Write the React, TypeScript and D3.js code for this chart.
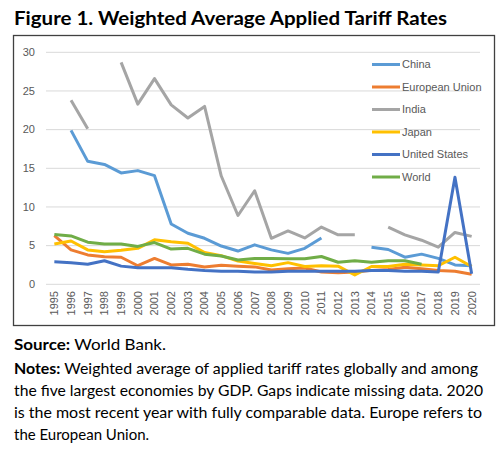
import * as d3 from 'd3'

const years = [
  '1995', '1996', '1997', '1998', '1999', '2000', '2001', '2002', '2003', '2004', '2005', '2006', '2007',
  '2008', '2009', '2010', '2011', '2012', '2013', '2014', '2015', '2016', '2017', '2018', '2019', '2020',
]

type V = number | null

const china: V[] = [null, 19.9, 15.9, 15.5, 14.4, 14.7, 14.05, 7.8, 6.6, 5.95, 4.95, 4.3, 5.1, 4.45, 4.0, 4.65, 6.0, null, null, 4.8, 4.5, 3.5, 3.9, 3.35, 2.5, 2.4]
const eu: V[] = [6.3, 4.45, 3.8, 3.55, 3.5, 2.4, 3.35, 2.5, 2.6, 2.25, 2.45, 2.35, 2.25, 1.85, 2.0, 2.1, 1.6, 1.5, 1.6, 1.8, 1.9, 2.2, 2.0, 1.8, 1.7, 1.3]
const india: V[] = [null, 23.8, 20.1, null, 28.7, 23.3, 26.6, 23.2, 21.5, 23.0, 14.0, 8.9, 12.1, 5.95, 6.9, 6.0, 7.4, 6.4, 6.4, null, 7.4, 6.4, 5.7, 4.8, 6.7, 6.2]
const japan: V[] = [5.2, 5.6, 4.45, 4.2, 4.4, 4.65, 5.75, 5.5, 5.3, 4.1, 3.7, 3.0, 2.7, 2.4, 2.8, 2.3, 2.4, 2.35, 1.2, 2.3, 2.3, 2.6, 2.5, 2.4, 3.5, 2.3]
const us: V[] = [2.9, 2.8, 2.6, 3.05, 2.35, 2.15, 2.15, 2.15, 1.95, 1.8, 1.7, 1.7, 1.6, 1.6, 1.7, 1.7, 1.7, 1.7, 1.7, 1.8, 1.8, 1.7, 1.7, 1.6, 13.85, 1.35]
const world: V[] = [6.45, 6.25, 5.45, 5.2, 5.2, 4.9, 5.4, 4.55, 4.65, 3.9, 3.65, 3.15, 3.35, 3.35, 3.3, 3.3, 3.6, 2.85, 3.05, 2.85, 3.05, 3.05, 2.6, null, null, null]

const seriesNames = ['China', 'European Union', 'India', 'Japan', 'United States', 'World']
const seriesData = [china, eu, india, japan, us, world]
const seriesColors = ['#5B9BD5', '#ED7D31', '#A5A5A5', '#FFC000', '#4472C4', '#70AD47']
const yTicks = [0, 5, 10, 15, 20, 25, 30]

const noteLines = [
  'Weighted average of applied tariff rates globally and among',
  'the five largest economies by GDP. Gaps indicate missing data. 2020',
  'is the most recent year with fully comparable data. Europe refers to',
  'the European Union.',
]
// rendered widths of the note lines in the original (last line left natural)
const noteWidths = [464, 469, 468, null]

export default function App() {
  const x = d3.scaleBand<string>().domain(years).range([46, 480])
  const cx = (yr: string) => (x(yr) ?? 0) + x.bandwidth() / 2
  const y = d3.scaleLinear().domain([0, 30]).range([284.3, 52.3])

  const line = d3
    .line<V>()
    .defined((d) => d !== null)
    .x((_, i) => cx(years[i]))
    .y((d) => y(d as number))

  const axisFont = "'Liberation Sans', Arial, sans-serif"
  const textFont = "Lato, 'Open Sans', sans-serif"

  return (
    <svg width={504} height={460} style={{ position: 'absolute', left: 0, top: 0, background: '#fff' }}>
      <text
        x={14}
        y={25}
        fontFamily={textFont}
        fontWeight={700}
        fontSize={18}
        fill="#000"
        textLength={433}
        lengthAdjust="spacingAndGlyphs"
      >
        Figure 1. Weighted Average Applied Tariff Rates
      </text>

      <rect x={13.5} y={35.5} width={481} height={290} fill="#fff" stroke="#404040" strokeWidth={1.3} />

      {/* gridlines + y labels */}
      {yTicks.map((t) => (
        <g key={t}>
          <line x1={46} x2={480} y1={y(t)} y2={y(t)} stroke="#d9d9d9" strokeWidth={1} />
          <text x={35} y={y(t)} dy="0.35em" textAnchor="end" fontFamily={axisFont} fontSize={11} fill="#595959">
            {t}
          </text>
        </g>
      ))}

      {/* x labels */}
      {years.map((yr) => (
        <text
          key={yr}
          transform={`translate(${cx(yr)},291) rotate(-90)`}
          dy="0.35em"
          textAnchor="end"
          fontFamily={axisFont}
          fontSize={11}
          fill="#595959"
        >
          {yr}
        </text>
      ))}

      {/* series */}
      {seriesData.map((d, i) => (
        <path key={seriesNames[i]} d={line(d) ?? ''} fill="none" stroke={seriesColors[i]} strokeWidth={3} strokeLinejoin="round" />
      ))}

      {/* legend */}
      {seriesNames.map((n, i) => {
        const ly = 64.5 + i * 22.5
        return (
          <g key={n}>
            <line x1={372} x2={400} y1={ly} y2={ly} stroke={seriesColors[i]} strokeWidth={3} />
            <text x={402} y={ly} dy="0.35em" fontFamily={axisFont} fontSize={11} fill="#595959">
              {n}
            </text>
          </g>
        )
      })}

      <text x={14} y={350} fontFamily={textFont} fontSize={15} fill="#000" textLength={152} lengthAdjust="spacingAndGlyphs">
        <tspan fontWeight={700}>Source:</tspan> World Bank.
      </text>
      {noteLines.map((l, i) => (
        <text
          key={i}
          x={14}
          y={373.5 + i * 22.3}
          fontFamily={textFont}
          fontSize={15}
          fill="#000"
          {...(noteWidths[i] ? { textLength: noteWidths[i] as number, lengthAdjust: 'spacingAndGlyphs' } : {})}
        >
          {i === 0 && <tspan fontWeight={700}>Notes: </tspan>}
          {l}
        </text>
      ))}
    </svg>
  )
}
